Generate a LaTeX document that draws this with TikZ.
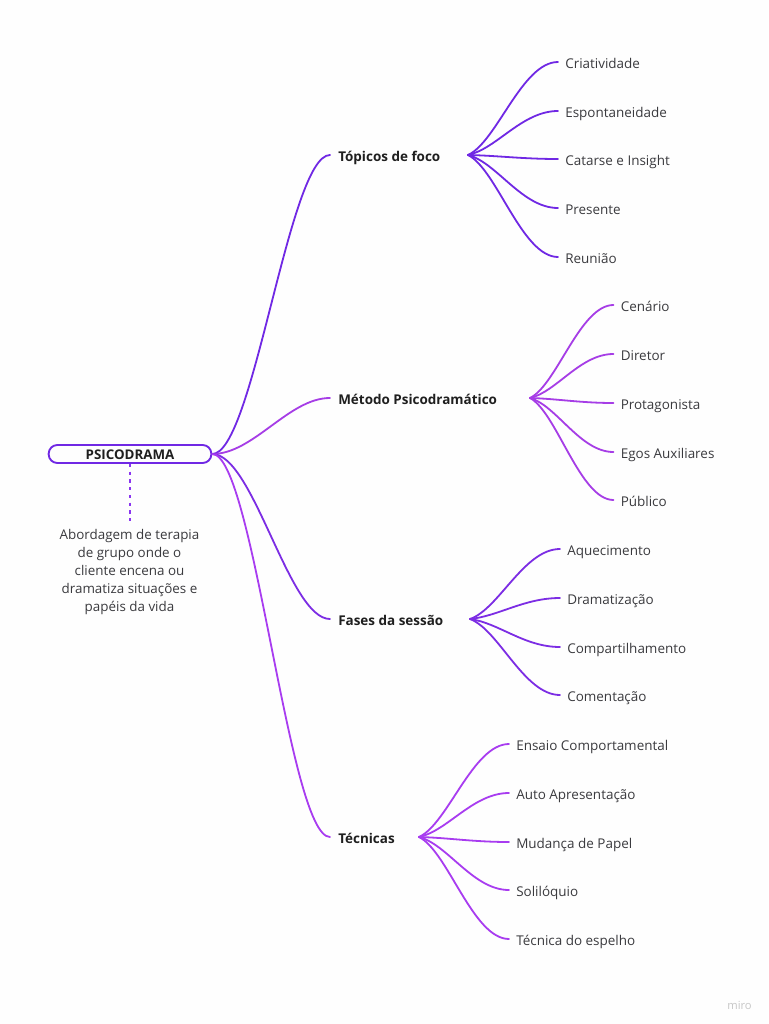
\documentclass[tikz,border=0pt]{standalone}
\usepackage{fontspec}
\setmainfont{Open Sans}
\usetikzlibrary{calc}
\definecolor{cA}{HTML}{7028E4}
\definecolor{cB}{HTML}{A63DE6}
\definecolor{cC}{HTML}{7C2DE4}
\definecolor{cD}{HTML}{A83CF0}
\definecolor{cDash}{HTML}{8A35F0}
\definecolor{txt}{HTML}{3A3A3E}
\definecolor{page}{HTML}{FEFEFE}
\tikzset{
  leaf/.style={anchor=west,inner xsep=5.25pt,inner ysep=0pt,text height=10.8pt,text depth=1.6pt,font=\fontsize{10.1}{12}\selectfont,text=txt},
  branch/.style={anchor=west,inner xsep=6pt,inner ysep=0pt,text height=10.8pt,text depth=1.6pt,font=\fontsize{10.1}{12}\selectfont\bfseries,text=black!88},
  link/.style={line width=1.35pt,line cap=round},
}
\newcommand{\conn}[3]{\draw[link,#3] let \p1=(#1),\p2=(#2),\n1={\x2-\x1},\n2={\y2-\y1} in
  (\p1) .. controls ($(\p1)+(0.32*\n1,0.14*\n2)$) and ($(\p2)-(0.40*\n1,0)$) .. (\p2);}
\newcommand{\rootconn}[3]{\draw[link,#3] let \p1=(#1),\p2=(#2),\n1={\x2-\x1} in
  (\p1) .. controls ($(\p1)+(0.35*\n1,0)$) and ($(\p2)-(0.35*\n1,0)$) .. (\p2);}
\begin{document}
\begin{tikzpicture}[x=0.75pt,y=-0.75pt]
\useasboundingbox[fill=page] (0,0) rectangle (768,1024);
\node[draw=cA,line width=1.4pt,rounded corners=6.5pt,minimum width=122pt,minimum height=13.5pt,inner sep=0pt,text height=7.9pt,text depth=0.4pt,font=\fontsize{10}{12}\selectfont\bfseries,text=black!88] (root) at (130,454) {PSICODRAMA};
\node[align=center,font=\fontsize{10.05}{13.5}\selectfont,text=txt,inner sep=0pt,anchor=north] (desc) at (129.5,529.5) {Abordagem de terapia\\de grupo onde o\\cliente encena ou\\dramatiza situações e\\papéis da vida};
\coordinate (descTop) at (130,523);
\draw[cDash,line width=1.5pt,dash pattern=on 2.4pt off 3.4pt] (root.south -| descTop) -- (descTop);

\node[branch] (b1) at (330,155) {Tópicos de foco};
\node[branch] (b2) at (330,398) {Método Psicodramático};
\node[branch] (b3) at (330,619) {Fases da sessão};
\node[branch] (b4) at (330,837) {Técnicas};
\coordinate (h1) at (468,155);
\coordinate (h2) at (530,398);
\coordinate (h3) at (470,619);
\coordinate (h4) at (419,837);

\node[leaf] (a1) at (558,62) {Criatividade};
\node[leaf] (a2) at (558,111) {Espontaneidade};
\node[leaf] (a3) at (558,159) {Catarse e Insight};
\node[leaf] (a4) at (558,208) {Presente};
\node[leaf] (a5) at (558,257) {Reunião};
\node[leaf] (c1) at (613.5,305) {Cenário};
\node[leaf] (c2) at (613.5,354) {Diretor};
\node[leaf] (c3) at (613.5,403) {Protagonista};
\node[leaf] (c4) at (613.5,452) {Egos Auxiliares};
\node[leaf] (c5) at (613.5,500) {Público};
\node[leaf] (d1) at (560,549) {Aquecimento};
\node[leaf] (d2) at (560,598) {Dramatização};
\node[leaf] (d3) at (560,647) {Compartilhamento};
\node[leaf] (d4) at (560,695) {Comentação};
\node[leaf] (e1) at (509,744) {Ensaio Comportamental};
\node[leaf] (e2) at (509,793) {Auto Apresentação};
\node[leaf] (e3) at (509,842) {Mudança de Papel};
\node[leaf] (e4) at (509,890) {Solilóquio};
\node[leaf] (e5) at (509,939) {Técnica do espelho};

\rootconn{root.east}{b1.west}{cA}
\rootconn{root.east}{b2.west}{cB}
\rootconn{root.east}{b3.west}{cC}
\rootconn{root.east}{b4.west}{cD}
\foreach \lf in {a1,a2,a3,a4,a5} {\conn{h1}{\lf.west}{cA}}
\foreach \lf in {c1,c2,c3,c4,c5} {\conn{h2}{\lf.west}{cB}}
\foreach \lf in {d1,d2,d3,d4} {\conn{h3}{\lf.west}{cC}}
\foreach \lf in {e1,e2,e3,e4,e5} {\conn{h4}{\lf.west}{cD}}
\node[anchor=east,inner sep=0pt,font=\fontsize{8.4}{9}\selectfont,text=black!22] (miro) at (752,1005) {miro};
\end{tikzpicture}
\end{document}
